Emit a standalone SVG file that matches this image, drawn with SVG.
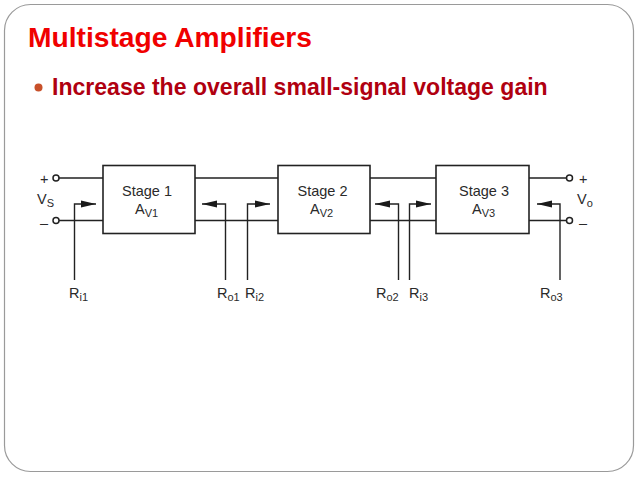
<svg xmlns="http://www.w3.org/2000/svg" width="638" height="478" viewBox="0 0 638 478">
<defs>
<marker id="ah" markerUnits="userSpaceOnUse" markerWidth="16" markerHeight="8" refX="15" refY="4" orient="auto"><path d="M0 0.5L15 4L0 7.5Z" fill="#1a1a1a"/></marker>
</defs>
<style>
text{font-family:"Liberation Sans",Arial,sans-serif}
.l{font-size:14.5px;fill:#2a2a2a}
.s{font-size:11px;fill:#2a2a2a}
.w{fill:none;stroke:#222;stroke-width:1.6}
.box{fill:#fff;stroke:#222;stroke-width:1.6}
.t{fill:#fff;stroke:#222;stroke-width:1.5}
.a{fill:none;stroke:#222;stroke-width:1.4;marker-end:url(#ah)}
</style>
<rect width="638" height="478" fill="#fff"/>
<rect x="4.500" y="4.500" width="629" height="467" rx="26" fill="#fff" stroke="#9a9a9a" stroke-width="1.2"/>
<text x="28" y="47" font-size="28.200" font-weight="700" fill="#f00000">Multistage Amplifiers</text>
<circle cx="38.500" cy="87.500" r="4" fill="#c8502a"/>
<text x="52" y="95" font-size="23.050" font-weight="700" fill="#b00010">Increase the overall small-signal voltage gain</text>
<g id="connectors">
<path class="w" d="M59 178H103M59 220.500H103M195 178H278M195 220.500H278M370 178H436M370 220.500H436M529 178H566M529 220.500H566"/>
<path class="a" d="M74.500 280V204H96"/>
<path class="a" d="M225.500 280V204H202"/>
<path class="a" d="M247.500 280V204H270"/>
<path class="a" d="M398.500 280V204H375"/>
<path class="a" d="M409.500 280V204H431"/>
<path class="a" d="M560 280V204H537"/>
</g>
<g id="stage1"><rect class="box" x="103" y="165.500" width="92" height="68"/><text class="l" x="147" y="196" text-anchor="middle">Stage 1</text><text class="l" x="135" y="214">A<tspan class="s" dy="3">V1</tspan></text></g>
<g id="stage2"><rect class="box" x="278" y="165.500" width="92" height="68"/><text class="l" x="322.500" y="196" text-anchor="middle">Stage 2</text><text class="l" x="310" y="214">A<tspan class="s" dy="3">V2</tspan></text></g>
<g id="stage3"><rect class="box" x="436" y="165.500" width="93" height="68"/><text class="l" x="484" y="196" text-anchor="middle">Stage 3</text><text class="l" x="472" y="214">A<tspan class="s" dy="3">V3</tspan></text></g>
<g id="input-port"><circle class="t" cx="56" cy="178" r="3"/><circle class="t" cx="56" cy="220.500" r="3"/><text class="l" x="40" y="184">+</text><text class="l" x="37" y="204">V<tspan class="s" dy="3">S</tspan></text><text class="l" x="40" y="228">–</text></g>
<g id="output-port"><circle class="t" cx="569.500" cy="178" r="3"/><circle class="t" cx="569.500" cy="220.500" r="3"/><text class="l" x="579" y="184">+</text><text class="l" x="577" y="204">V<tspan class="s" dy="3">o</tspan></text><text class="l" x="579" y="228">–</text></g>
<g id="labels">
<text class="l" x="69" y="298">R<tspan class="s" dy="3">i1</tspan></text>
<text class="l" x="217" y="298">R<tspan class="s" dy="3">o1</tspan></text>
<text class="l" x="245" y="298">R<tspan class="s" dy="3">i2</tspan></text>
<text class="l" x="376" y="298">R<tspan class="s" dy="3">o2</tspan></text>
<text class="l" x="409" y="298">R<tspan class="s" dy="3">i3</tspan></text>
<text class="l" x="540" y="298">R<tspan class="s" dy="3">o3</tspan></text>
</g>
</svg>
